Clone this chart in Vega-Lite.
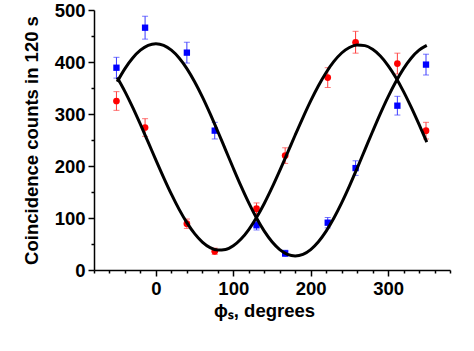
{
  "$schema": "https://vega.github.io/schema/vega-lite/v6.json",
  "width": 356,
  "height": 260,
  "autosize": "none",
  "padding": {"left": 94, "top": 10, "right": 24, "bottom": 81},
  "background": "white",
  "config": {
    "view": {"stroke": null},
    "font": "Liberation Sans",
    "axis": {
      "grid": false,
      "domainColor": "black",
      "domainWidth": 1.5,
      "tickColor": "black",
      "tickWidth": 1.5,
      "labelFont": "Liberation Sans",
      "labelFontSize": 18.5,
      "labelFontWeight": "bold",
      "labelColor": "black",
      "titleFont": "Liberation Sans",
      "titleFontSize": 18.5,
      "titleFontWeight": "bold",
      "titleColor": "black",
      "labelFlush": false,
      "labelOverlap": false
    }
  },
  "resolve": {"axis": {"x": "independent", "y": "independent"}},
  "datasets": {
    "pts": [
      {"x": -51, "y": 389, "lo": 369, "hi": 409, "series": "blue"},
      {"x": -14, "y": 466, "lo": 444, "hi": 488, "series": "blue"},
      {"x": 40, "y": 418, "lo": 398, "hi": 438, "series": "blue"},
      {"x": 76, "y": 268, "lo": 252, "hi": 284, "series": "blue"},
      {"x": 130, "y": 86, "lo": 77, "hi": 95, "series": "blue"},
      {"x": 167, "y": 32, "lo": 26, "hi": 38, "series": "blue"},
      {"x": 222, "y": 91, "lo": 81, "hi": 101, "series": "blue"},
      {"x": 258, "y": 196, "lo": 182, "hi": 210, "series": "blue"},
      {"x": 312, "y": 316, "lo": 298, "hi": 334, "series": "blue"},
      {"x": 349, "y": 395, "lo": 375, "hi": 415, "series": "blue"},
      {"x": -51, "y": 325, "lo": 307, "hi": 343, "series": "red"},
      {"x": -14, "y": 274, "lo": 257, "hi": 291, "series": "red"},
      {"x": 40, "y": 89, "lo": 80, "hi": 98, "series": "red"},
      {"x": 76, "y": 36, "lo": 30, "hi": 42, "series": "red"},
      {"x": 130, "y": 118, "lo": 107, "hi": 129, "series": "red"},
      {"x": 167, "y": 220, "lo": 205, "hi": 235, "series": "red"},
      {"x": 222, "y": 370, "lo": 351, "hi": 389, "series": "red"},
      {"x": 258, "y": 438, "lo": 417, "hi": 459, "series": "red"},
      {"x": 312, "y": 397, "lo": 377, "hi": 417, "series": "red"},
      {"x": 349, "y": 268, "lo": 252, "hi": 284, "series": "red"}
    ],
    "fit": [
      {"x": -50, "y": 362.1, "series": "blue"},
      {"x": -40, "y": 387.3, "series": "blue"},
      {"x": -30, "y": 407.7, "series": "blue"},
      {"x": -20, "y": 422.7, "series": "blue"},
      {"x": -10, "y": 431.9, "series": "blue"},
      {"x": 0, "y": 435, "series": "blue"},
      {"x": 10, "y": 431.9, "series": "blue"},
      {"x": 20, "y": 422.7, "series": "blue"},
      {"x": 30, "y": 407.7, "series": "blue"},
      {"x": 40, "y": 387.3, "series": "blue"},
      {"x": 50, "y": 362.1, "series": "blue"},
      {"x": 60, "y": 333, "series": "blue"},
      {"x": 70, "y": 300.8, "series": "blue"},
      {"x": 80, "y": 266.4, "series": "blue"},
      {"x": 90, "y": 231, "series": "blue"},
      {"x": 100, "y": 195.6, "series": "blue"},
      {"x": 110, "y": 161.2, "series": "blue"},
      {"x": 120, "y": 129, "series": "blue"},
      {"x": 130, "y": 99.9, "series": "blue"},
      {"x": 140, "y": 74.7, "series": "blue"},
      {"x": 150, "y": 54.3, "series": "blue"},
      {"x": 160, "y": 39.3, "series": "blue"},
      {"x": 170, "y": 30.1, "series": "blue"},
      {"x": 180, "y": 27, "series": "blue"},
      {"x": 190, "y": 30.1, "series": "blue"},
      {"x": 200, "y": 39.3, "series": "blue"},
      {"x": 210, "y": 54.3, "series": "blue"},
      {"x": 220, "y": 74.7, "series": "blue"},
      {"x": 230, "y": 99.9, "series": "blue"},
      {"x": 240, "y": 129, "series": "blue"},
      {"x": 250, "y": 161.2, "series": "blue"},
      {"x": 260, "y": 195.6, "series": "blue"},
      {"x": 270, "y": 231, "series": "blue"},
      {"x": 280, "y": 266.4, "series": "blue"},
      {"x": 290, "y": 300.8, "series": "blue"},
      {"x": 300, "y": 333, "series": "blue"},
      {"x": 310, "y": 362.1, "series": "blue"},
      {"x": 320, "y": 387.3, "series": "blue"},
      {"x": 330, "y": 407.7, "series": "blue"},
      {"x": 340, "y": 422.7, "series": "blue"},
      {"x": 350, "y": 431.9, "series": "blue"},
      {"x": -50, "y": 370.2, "series": "red"},
      {"x": -40, "y": 343.1, "series": "red"},
      {"x": -30, "y": 312.7, "series": "red"},
      {"x": -20, "y": 279.9, "series": "red"},
      {"x": -10, "y": 245.8, "series": "red"},
      {"x": 0, "y": 211.4, "series": "red"},
      {"x": 10, "y": 177.8, "series": "red"},
      {"x": 20, "y": 145.8, "series": "red"},
      {"x": 30, "y": 116.6, "series": "red"},
      {"x": 40, "y": 91.1, "series": "red"},
      {"x": 50, "y": 69.9, "series": "red"},
      {"x": 60, "y": 53.7, "series": "red"},
      {"x": 70, "y": 43.1, "series": "red"},
      {"x": 80, "y": 38.3, "series": "red"},
      {"x": 90, "y": 39.5, "series": "red"},
      {"x": 100, "y": 46.6, "series": "red"},
      {"x": 110, "y": 59.5, "series": "red"},
      {"x": 120, "y": 77.8, "series": "red"},
      {"x": 130, "y": 100.8, "series": "red"},
      {"x": 140, "y": 127.9, "series": "red"},
      {"x": 150, "y": 158.3, "series": "red"},
      {"x": 160, "y": 191.1, "series": "red"},
      {"x": 170, "y": 225.2, "series": "red"},
      {"x": 180, "y": 259.6, "series": "red"},
      {"x": 190, "y": 293.2, "series": "red"},
      {"x": 200, "y": 325.2, "series": "red"},
      {"x": 210, "y": 354.4, "series": "red"},
      {"x": 220, "y": 379.9, "series": "red"},
      {"x": 230, "y": 401.1, "series": "red"},
      {"x": 240, "y": 417.3, "series": "red"},
      {"x": 250, "y": 427.9, "series": "red"},
      {"x": 260, "y": 432.7, "series": "red"},
      {"x": 270, "y": 431.5, "series": "red"},
      {"x": 280, "y": 424.4, "series": "red"},
      {"x": 290, "y": 411.5, "series": "red"},
      {"x": 300, "y": 393.2, "series": "red"},
      {"x": 310, "y": 370.2, "series": "red"},
      {"x": 320, "y": 343.1, "series": "red"},
      {"x": 330, "y": 312.7, "series": "red"},
      {"x": 340, "y": 279.9, "series": "red"},
      {"x": 350, "y": 245.8, "series": "red"}
    ]
  },
  "layer": [
    {
      "data": {"name": "pts"},
      "mark": {"type": "errorbar", "ticks": {"size": 6}, "thickness": 1},
      "encoding": {
        "x": {
          "field": "x", "type": "quantitative",
          "scale": {"domain": [-80, 380], "nice": false, "zero": false},
          "axis": {
            "orient": "bottom",
            "title": "ϕₛ, degrees",
            "titleX": 170,
            "titlePadding": 4,
            "values": [0, 100, 200, 300],
            "tickSize": 6,
            "labelPadding": 3
          }
        },
        "y": {
          "field": "lo", "type": "quantitative",
          "scale": {"domain": [0, 500], "nice": false},
          "axis": {
            "orient": "left",
            "title": "Coincidence counts in 120 s",
            "values": [0, 100, 200, 300, 400, 500],
            "tickSize": 6,
            "labelPadding": 3,
            "titlePadding": 13
          }
        },
        "y2": {"field": "hi"},
        "color": {"field": "series", "type": "nominal", "scale": {"domain": ["blue", "red"], "range": ["#3a3aff", "#ff3a3a"]}, "legend": null}
      }
    },
    {
      "data": {"name": "pts"},
      "transform": [{"filter": "datum.series === 'blue'"}],
      "mark": {"type": "square", "size": 40, "filled": true, "color": "#0000ff", "opacity": 1},
      "encoding": {
        "x": {"field": "x", "type": "quantitative", "axis": null},
        "y": {"field": "y", "type": "quantitative", "axis": null}
      }
    },
    {
      "data": {"name": "pts"},
      "transform": [{"filter": "datum.series === 'red'"}],
      "mark": {"type": "circle", "size": 45, "color": "#ff0000", "opacity": 1},
      "encoding": {
        "x": {"field": "x", "type": "quantitative", "axis": null},
        "y": {"field": "y", "type": "quantitative", "axis": null}
      }
    },
    {
      "data": {"name": "fit"},
      "mark": {"type": "line", "color": "black", "strokeWidth": 3, "interpolate": "monotone"},
      "encoding": {
        "x": {
          "field": "x", "type": "quantitative",
          "axis": {
            "orient": "bottom",
            "title": null,
            "labels": false,
            "domain": false,
            "tickSize": 3,
            "values": [-80, -60, -40, -20, 20, 40, 60, 80, 120, 140, 160, 180, 220, 240, 260, 280, 320, 340, 360, 380]
          }
        },
        "y": {
          "field": "y", "type": "quantitative",
          "axis": {
            "orient": "left",
            "title": null,
            "labels": false,
            "domain": false,
            "tickSize": 3,
            "values": [50, 150, 250, 350, 450]
          }
        },
        "detail": {"field": "series", "type": "nominal"}
      }
    }
  ]
}
